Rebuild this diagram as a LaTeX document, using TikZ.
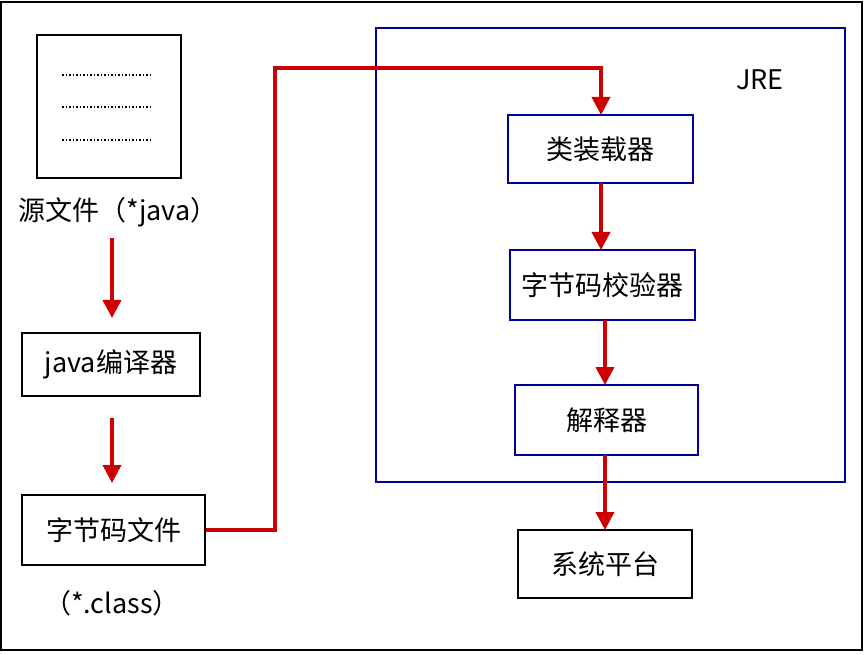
\documentclass[tikz,border=0pt]{standalone}
\usepackage{fontspec}
\setmainfont{Noto Sans CJK SC}
\usetikzlibrary{arrows.meta}
\begin{document}
\begin{tikzpicture}[x=1pt,y=-1pt,
  bbox/.style={draw=black,line width=2.5pt},
  blbox/.style={draw=blue!60!black,line width=2.5pt},
  lbl/.style={font=\fontsize{27}{30}\selectfont},
  arr/.style={draw=red!80!black,line width=3.8pt,-{Triangle[length=18pt,width=18pt]}}]
\useasboundingbox (0,0) rectangle (868,655);
\draw[line width=2pt] (1,2) rectangle (862,650);
\node[bbox,minimum width=144pt,minimum height=143pt] (src) at (109,106.5) {};
\foreach \yy in {75,107,140}{\draw[line width=2.2pt,dash pattern=on 1.5pt off 2pt] (62,\yy) -- (150,\yy);}
\node[lbl] (srct) at (118,212) {源文件（*java）};
\node[bbox,minimum width=178pt,minimum height=63pt,lbl] (comp) at (111,364.5) {java编译器};
\node[bbox,minimum width=183pt,minimum height=70pt,lbl] (cls) at (113.5,530) {字节码文件};
\node[lbl] (clst) at (112,603) {（*.class）};
\coordinate (a1) at (112,238); \coordinate (a2) at (112,318);
\coordinate (b1) at (112,418); \coordinate (b2) at (112,483);
\draw[arr] (a1) -- (a2);
\draw[arr] (b1) -- (b2);
\node[blbox,minimum width=469pt,minimum height=454pt] (jre) at (610.5,255) {};
\node[lbl] (jret) at (760,80) {JRE};
\node[blbox,minimum width=185pt,minimum height=68pt,lbl] (load) at (600.5,149) {类装载器};
\node[blbox,minimum width=185pt,minimum height=70pt,lbl] (ver) at (602.5,285) {字节码校验器};
\node[blbox,minimum width=183pt,minimum height=70pt,lbl] (intp) at (606.5,420) {解释器};
\node[bbox,minimum width=174pt,minimum height=68pt,lbl] (sys) at (605,564) {系统平台};
\draw[arr] (cls.east) -- (275,530) -- (275,68) -- (601,68) -- (601,115);
\draw[arr] (601,183) -- (601,250);
\draw[arr] (605,320) -- (605,385);
\draw[arr] (605,455) -- (605,530);
\end{tikzpicture}
\end{document}
